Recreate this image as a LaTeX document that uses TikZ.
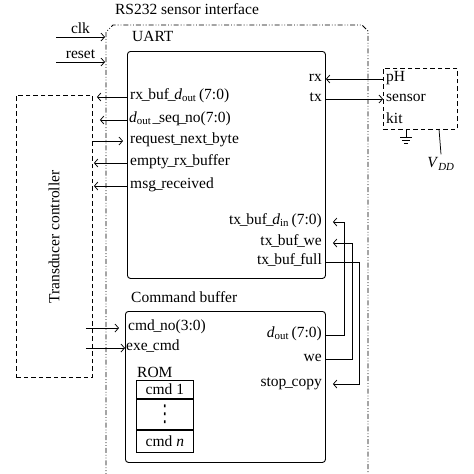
\documentclass[tikz,border=0pt]{standalone}
\usepackage{fontspec}
\setmainfont{Liberation Serif}
\newfontfamily\symfont{DejaVu Sans}
\usetikzlibrary{arrows.meta,positioning,calc}
\newcommand{\dsig}[1]{\textit{d}\textsubscript{#1}}
\newcommand{\us}{\kern-0.08em\_\kern-0.08em}

\begin{document}
\begin{tikzpicture}[x=1pt, y=-1pt, font=\fontsize{15.5}{17}\selectfont,
  blk/.style={draw, rounded corners=3pt, line width=0.9pt, anchor=north west},
  ctrl/.style={draw, line width=0.9pt, dash pattern=on 4.5pt off 3pt, anchor=north west},
  frame/.style={line width=0.8pt, dash pattern=on 5pt off 2pt on 0.8pt off 2pt on 0.8pt off 2pt},
  sig/.style={inner sep=1pt, text height=1.6ex, text depth=0.4ex},
  romcell/.style={draw, line width=0.8pt, minimum width=57pt, inner sep=0pt},
  arr/.style={-{Straight Barb[length=3.5pt,width=8pt]}, line width=0.75pt},
  wire/.style={line width=0.75pt}]
\useasboundingbox (0,0) rectangle (474,474);
\clip (0,0) rectangle (474,474);

% outer frame
\draw[frame] (106,478) -- (106,32) -- (113,25) -- (362,25) -- (368,31) -- (368,478);
\node (title) at (187,9) {RS232 sensor interface};

% blocks
\node[blk, minimum width=198pt, minimum height=227pt] (uart) at (127,51) {};
\node[anchor=west, inner sep=0pt] (uartlbl) at (132,36) {UART};
\node[blk, minimum width=200pt, minimum height=151pt] (cmd) at (125,311) {};
\node[anchor=west, inner sep=0pt] (cmdlbl) at (131,297) {Command buffer};
\node[ctrl, minimum width=76pt, minimum height=282pt] (trans) at (16,95) {};
\node[rotate=90] (translbl) at (54,237) {Transducer controller};
\node[ctrl, minimum width=74pt, minimum height=61pt] (kit) at (383,68) {};

% UART signals
\node[sig, anchor=west] (rxbuf) at (129,97) {rx\us buf\us\dsig{out}\,(7:0)};
\node[sig, anchor=west] (seqno) at (128,120) {\dsig{out}\,\us seq\us no(7:0)};
\node[sig, anchor=west] (reqnext) at (129,141) {request\us next\us byte};
\node[sig, anchor=west] (emptyrx) at (129,163) {empty\us rx\us buffer};
\node[sig, anchor=west] (msgrec) at (129,186) {msg\us received};
\node[sig, anchor=east] (rx) at (323,79) {rx};
\node[sig, anchor=east] (tx) at (323,99) {tx};
\node[sig, anchor=east] (din) at (323,222) {tx\us buf\us\dsig{in}\,(7:0)};
\node[sig, anchor=east] (txwe) at (323,243) {tx\us buf\us we};
\node[sig, anchor=east] (txfull) at (323,262) {tx\us buf\us full};

% command buffer signals
\node[sig, anchor=west] (cmdno) at (127,328) {cmd\us no(3:0)};
\node[sig, anchor=west] (exe) at (125,348) {exe\us cmd};
\node[sig, anchor=east] (dout) at (323,335) {\dsig{out}\,(7:0)};
\node[sig, anchor=east] (we) at (323,359) {we};
\node[sig, anchor=east] (stopcp) at (323,384) {stop\us copy};

% ROM
\node[anchor=west, inner sep=0pt] (romlbl) at (137,372) {ROM};
\node[romcell, minimum height=18pt, anchor=north west] (r1) at (136,380) {cmd 1};
\node[romcell, minimum height=30pt, below=0pt of r1] (r2) {\scalebox{1}[1.5]{\symfont ⋮}};
\node[romcell, minimum height=22pt, below=0pt of r2] (r3) {cmd \textit{n}};

% pH sensor kit
\node[sig, anchor=west] (ph) at (385,79) {pH};
\node[sig, anchor=west] (sensor) at (385,99) {sensor};
\node[sig, anchor=west] (kittxt) at (385,121) {kit};
\coordinate (gnd) at (406,129);
\coordinate (vdd) at (439,129);
\node (vddlbl) at (441,164) {\textit{V}\textsubscript{\textit{DD}}};
\draw[wire] (gnd) -- ++(0,8);
\draw[wire] ($(gnd)+(-6,8)$) -- ++(12,0);
\draw[wire] ($(gnd)+(-4,11)$) -- ++(8,0);
\draw[wire] ($(gnd)+(-2,14)$) -- ++(4,0);
\draw[wire] (vdd) -- (vddlbl.north);

% inputs of the interface
\coordinate (clkin) at (56,37);
\coordinate (rstin) at (56,62);
\draw[arr] (clkin) -- (clkin -| 105,0) node[midway, above=0pt] (clklbl) {clk};
\draw[arr] (rstin) -- (rstin -| 105,0) node[midway, above=0pt] (rstlbl) {reset};

% UART <-> transducer controller
\draw[arr] (uart.west |- rxbuf) -- ([xshift=4pt]trans.east |- rxbuf);
\draw[arr] (uart.west |- seqno) -- ([xshift=7pt]trans.east |- seqno);
\draw[arr] (trans.east |- reqnext) -- ([xshift=-4pt]uart.west |- reqnext);
\draw[arr] (uart.west |- emptyrx) -- ([xshift=1pt]trans.east |- emptyrx);
\draw[arr] (uart.west |- msgrec) -- ([xshift=1pt]trans.east |- msgrec);

% transducer controller -> command buffer
\draw[arr] ([xshift=-7pt]trans.east |- cmdno) -- ([xshift=-6pt]cmd.west |- cmdno);
\draw[arr] ([xshift=-7pt]trans.east |- exe) -- (cmd.west |- exe);

% UART <-> sensor kit
\draw[arr] (kit.west |- rx) -- (uart.east |- rx);
\draw[arr] (uart.east |- tx) -- (kit.west |- tx);

% UART <-> command buffer
\coordinate (c1) at (344,0);
\coordinate (c2) at (352,0);
\coordinate (c3) at (359,0);
\draw[arr] (cmd.east |- dout) -| (c1 |- din) -- ([xshift=7pt]uart.east |- din);
\draw[arr] (cmd.east |- we) -| (c2 |- txwe) -- ([xshift=7pt]uart.east |- txwe);
\draw[arr] (uart.east |- txfull) -| (c3 |- stopcp) -- ([xshift=7pt]cmd.east |- stopcp);
\end{tikzpicture}
\end{document}
